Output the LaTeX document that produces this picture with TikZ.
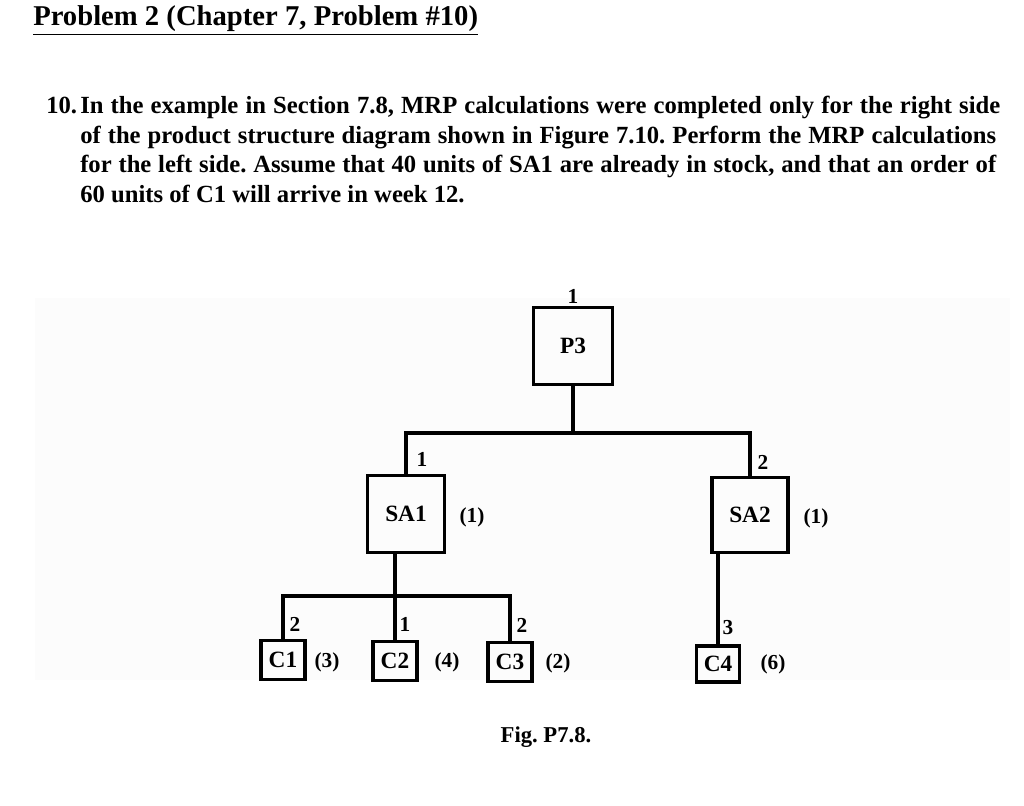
\documentclass[tikz,border=0pt]{standalone}
\usepackage{fontspec}
\setmainfont{Liberation Serif}
\frenchspacing
\begin{document}
\begin{tikzpicture}[x=0.75pt,y=-0.75pt,
  bx/.style={draw,line width=2.6pt,inner sep=0pt,font=\fontsize{17.5}{17.5}\selectfont\bfseries},
  ln/.style={line width=2.6pt},
  lab/.style={font=\fontsize{16}{16}\selectfont\bfseries,inner sep=1pt},
  para/.style={anchor=base west,inner sep=0pt,font=\fontsize{18.5}{20}\selectfont\bfseries}]
\useasboundingbox (0,0) rectangle (1024,806);
\fill[black!1] (35,298) rectangle (1010,680);
\node[anchor=base west,inner sep=0pt,font=\fontsize{21.5}{24}\selectfont\bfseries] (title) at (33,26) {\underline{Problem 2 (Chapter 7, Problem \#10)}};
\node[para] (l0) at (46,114) {10.};
\node[para] (l1) at (80,114) {\makebox[920\dimexpr0.75pt\relax][s]{In the example in Section 7.8, MRP calculations were completed only for the right side}};
\node[para] (l2) at (80,144) {\makebox[916\dimexpr0.75pt\relax][s]{of the product structure diagram shown in Figure 7.10. Perform the MRP calculations}};
\node[para] (l3) at (80,173) {\makebox[916\dimexpr0.75pt\relax][s]{for the left side. Assume that 40 units of SA1 are already in stock, and that an order of}};
\node[para] (l4) at (80,202) {60 units of C1 will arrive in week 12.};
% boxes
\node[bx,minimum width=59pt,minimum height=58pt] (P3) at (573,346) {P3};
\node[bx,minimum width=58pt,minimum height=58pt] (SA1) at (406,514) {SA1};
\node[bx,minimum width=57pt,minimum height=56pt] (SA2) at (750,515) {SA2};
\node[bx,minimum width=33pt,minimum height=29pt] (C1) at (283,660) {C1};
\node[bx,minimum width=33pt,minimum height=29pt] (C2) at (395,661) {C2};
\node[bx,minimum width=33pt,minimum height=29pt] (C3) at (510,662) {C3};
\node[bx,minimum width=32pt,minimum height=27pt] (C4) at (718,664) {C4};
\coordinate (j1) at (573,433);
\coordinate (j2) at (395,596);
\draw[ln] (P3.south) -- (j1);
\draw[ln] (SA1.north) |- (j1) -| (SA2.north);
\draw[ln] (SA1.south -| j2) -- (j2);
\draw[ln] (C1.north) |- (j2) -| (C3.north);
\draw[ln] (j2) -- (C2.north);
\draw[ln] (SA2.south -| C4.north) -- (C4.north);
% labels
\node[lab] (n0) at (573,296) {1};
\node[lab] (n1) at (422,459) {1};
\node[lab] (n2) at (763,462) {2};
\node[lab] (n3) at (295,624) {2};
\node[lab] (n4) at (405,624) {1};
\node[lab] (n5) at (522,625) {2};
\node[lab] (n6) at (728,628) {3};
\node[lab] (q1) at (472,517) {(1)};
\node[lab] (q2) at (816,518) {(1)};
\node[lab] (q3) at (327,662) {(3)};
\node[lab] (q4) at (447,662) {(4)};
\node[lab] (q5) at (558,663) {(2)};
\node[lab] (q6) at (773,664) {(6)};
\node[lab,font=\fontsize{17}{17}\selectfont\bfseries] (fig) at (546,737) {Fig. P7.8.};
\end{tikzpicture}
\end{document}
